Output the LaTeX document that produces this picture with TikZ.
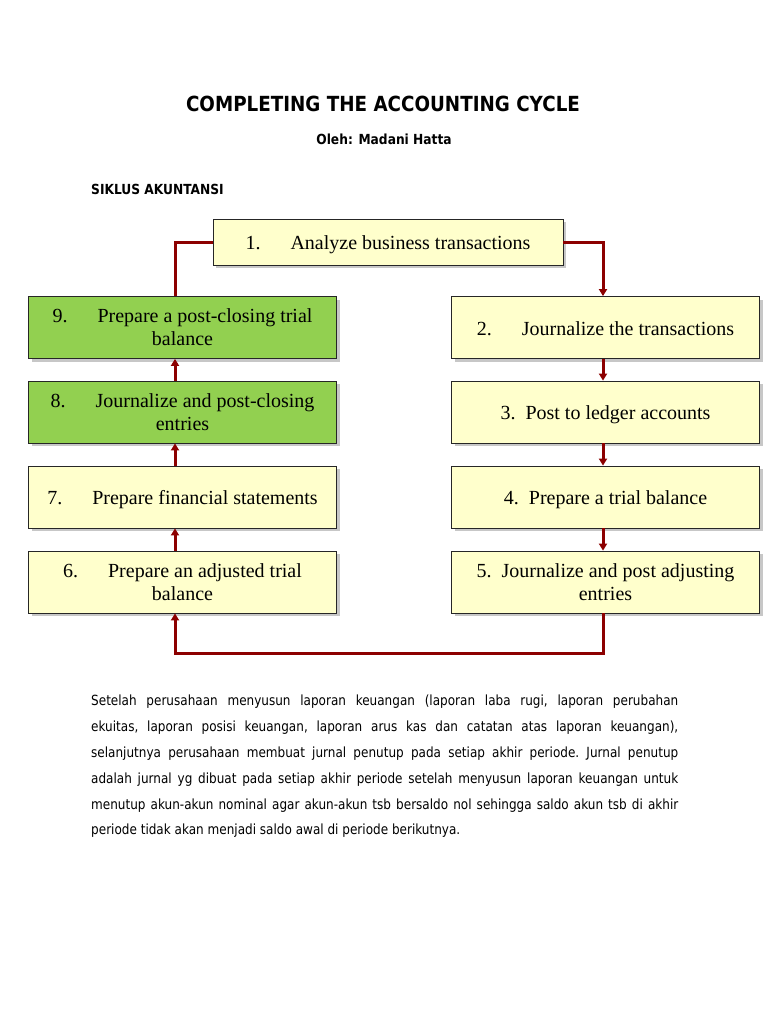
\documentclass[tikz,border=0pt]{standalone}
\usepackage{fontspec}
\setmainfont{Liberation Serif}
\newfontfamily\tahoma[FakeStretch=0.88]{DejaVu Sans}
\newfontfamily\tahomanote[FakeStretch=0.86]{DejaVu Sans}
\usetikzlibrary{shadows,arrows.meta}
\definecolor{cycleRed}{RGB}{140,0,0}
\definecolor{stepYellow}{RGB}{255,255,204}
\definecolor{stepGreen}{RGB}{146,208,80}

\begin{document}
\begin{tikzpicture}
    [x = 1pt, y = -1pt,
     titleNode/.style = {inner sep = 0pt, anchor = base, font =
                         \tahoma\bfseries\fontsize{20.8}{24}\selectfont},
     headNode/.style = {inner sep = 0pt, anchor = base, font =
                        \tahoma\bfseries\fontsize{13.9}{16}\selectfont},
     stepBox/.style = {draw = black!85, line width = 0.8pt, fill =
                       stepYellow, minimum width = 308pt, minimum
                       height = 62pt, align = center, inner sep = 0pt,
                       font = \fontsize{20}{23}\selectfont, drop
                       shadow = {shadow xshift = 3pt, shadow yshift =
                       -3pt, fill = black!22, opacity = 1}},
     oneLine/.style = {text height = 19pt, text depth = 4pt},
     closeBox/.style = {stepBox, fill = stepGreen},
     link/.style = {draw = cycleRed, line width = 3pt},
     arrowLink/.style = {link, -{Triangle[length = 7pt, width = 8pt]}}]

    \useasboundingbox [fill = white] (0,0) rectangle (768,1024);

    % headings
    \node at (383,112) [titleNode] (title) {COMPLETING THE ACCOUNTING CYCLE};
    \node at (384,145) [headNode]  (author) {Oleh: Madani Hatta};
    \node at (91,195)  [headNode, anchor = base west] (siklus) {SIKLUS AKUNTANSI};

    % the cycle
    \node at (388,242)   [stepBox, oneLine, minimum width = 350pt, minimum height = 46pt]
      (s1) {1.\hspace{30pt}Analyze business transactions};

    \node at (605.5,327.5) [stepBox, oneLine] (s2) {2.\hspace{30pt}Journalize the transactions};
    \node at (605.5,412)   [stepBox, oneLine] (s3) {3.\ \ Post to ledger accounts};
    \node at (605.5,497)   [stepBox, oneLine] (s4) {4.\ \ Prepare a trial balance};
    \node at (605.5,582)   [stepBox] (s5) {5.\ \ Journalize and post adjusting\\entries};

    \node at (182.5,582)   [stepBox]  (s6) {6.\hspace{30pt}Prepare an adjusted trial\\balance};
    \node at (182.5,497)   [stepBox, oneLine] (s7) {7.\hspace{30pt}Prepare financial statements};
    \node at (182.5,412)   [closeBox] (s8) {8.\hspace{30pt}Journalize and post-closing\\entries};
    \node at (182.5,327.5) [closeBox] (s9) {9.\hspace{30pt}Prepare a post-closing trial\\balance};

    \coordinate (leftRail)  at (175,0);
    \coordinate (rightRail) at (603,0);

    \draw [link] (s9.north -| leftRail) |- (s1.west);
    \draw [arrowLink] (s1.east) -| (s2.north -| rightRail);
    \draw [arrowLink] (s2.south -| rightRail) -- (s3.north -| rightRail);
    \draw [arrowLink] (s3.south -| rightRail) -- (s4.north -| rightRail);
    \draw [arrowLink] (s4.south -| rightRail) -- (s5.north -| rightRail);
    \draw [arrowLink] (s5.south -| rightRail) -- ++(0,40) -| (s6.south -| leftRail);
    \draw [arrowLink] (s6.north -| leftRail) -- (s7.south -| leftRail);
    \draw [arrowLink] (s7.north -| leftRail) -- (s8.south -| leftRail);
    \draw [arrowLink] (s8.north -| leftRail) -- (s9.south -| leftRail);

    % closing note
    \node at (91,695) [anchor = north west, inner sep = 0pt, text width = 587pt,
                       align = justify, font = \tahomanote\fontsize{14}{25.8}\selectfont\frenchspacing]
      (note) {Setelah perusahaan menyusun laporan keuangan (laporan laba rugi, laporan perubahan\linebreak
      ekuitas, laporan posisi keuangan, laporan arus kas dan catatan atas laporan keuangan),\linebreak
      selanjutnya perusahaan membuat jurnal penutup pada setiap akhir periode. Jurnal penutup\linebreak
      adalah jurnal yg dibuat pada setiap akhir periode setelah menyusun laporan keuangan untuk\linebreak
      menutup akun-akun nominal agar akun-akun tsb bersaldo nol sehingga saldo akun tsb di akhir\linebreak
      periode tidak akan menjadi saldo awal di periode berikutnya.};
  \end{tikzpicture}
\end{document}
